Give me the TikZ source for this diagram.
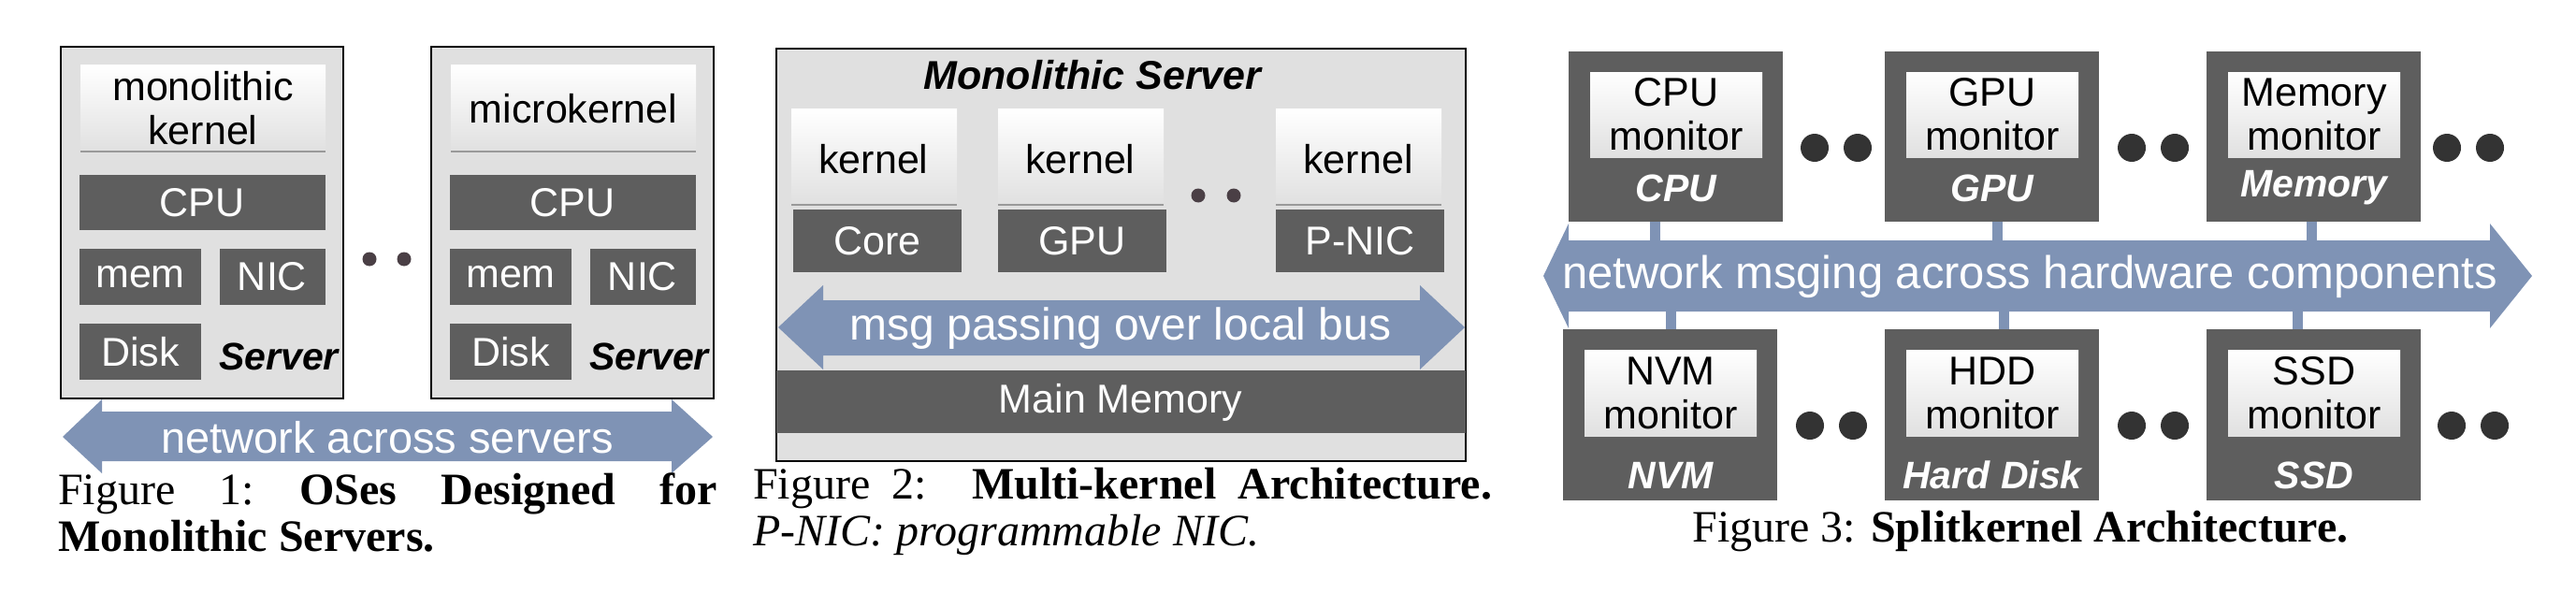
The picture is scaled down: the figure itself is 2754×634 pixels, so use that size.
\documentclass[tikz,border=0pt]{standalone}
\usepackage{fontspec}
\setmainfont{Liberation Serif}
\newfontfamily\hv{Liberation Sans}
\begin{document}
\begin{tikzpicture}[x=1pt,y=-1pt,
  dark/.style={fill=dk,draw=none},
  lite/.style={fill=lt,draw=black,line width=2pt},
  wbox/.style={top color=white,bottom color=white!88!black,draw=none},
  arr/.style={fill=ab},
  lbl/.style={font=\hv\fontsize{43}{47}\selectfont,align=center},
  wlbl/.style={font=\hv\fontsize{43}{47}\selectfont,text=white},
  bi/.style={font=\hv\bfseries\itshape\fontsize{41}{44}\selectfont},
  dot/.style={circle,fill=dd,inner sep=0pt,minimum size=15pt},
  conn/.style={draw=ab,line width=11pt},
  captxt/.style={font=\fontsize{48}{50}\selectfont,anchor=north west,inner sep=0pt}]
\definecolor{dk}{HTML}{5E5E5E}
\definecolor{lt}{HTML}{E0E0E0}
\definecolor{ab}{HTML}{7F93B5}
\definecolor{dd}{HTML}{4A3F45}
\useasboundingbox (0,0) rectangle (2754,634);
% ---------- Panel 1
\foreach \ox/\k/\t in {0/a/{monolithic\\kernel},396/b/microkernel}{
  \draw[lite] (65+\ox,50) rectangle (367+\ox,426);
  \fill[wbox] (86+\ox,70) rectangle (348+\ox,162);
  \draw[white!60!black,line width=2pt] (86+\ox,162) -- (348+\ox,162);
  \node[lbl] (k\k) at (217+\ox,116) {\t};
  \fill[dark] (85+\ox,187) rectangle (348+\ox,246);
  \node[wlbl] (c\k) at (216+\ox,217) {CPU};
  \fill[dark] (85+\ox,266) rectangle (215+\ox,326);
  \node[wlbl] (m\k) at (150+\ox,296) {mem};
  \fill[dark] (235+\ox,266) rectangle (348+\ox,326);
  \node[wlbl] (n\k) at (291+\ox,296) {NIC};
  \fill[dark] (85+\ox,346) rectangle (215+\ox,406);
  \node[wlbl] (d\k) at (150+\ox,376) {Disk};
  \node[bi] (s\k) at (298+\ox,381) {Server};
}
\node[dot] (d1a) at (395,277) {};
\node[dot] (d1b) at (432,277) {};
\fill[arr] (67,467) -- (109,427) -- (109,440) -- (718,440) -- (718,427) -- (762,467) -- (718,506) -- (718,493) -- (109,493) -- (109,506) -- cycle;
\node[wlbl,font=\hv\fontsize{47}{48}\selectfont] (net1) at (414,468) {network across servers};
\node[captxt,text width=705pt,align=justify] (cap1) at (62,505)
  {Figure 1:\quad \textbf{OSes Designed for Monolithic Servers.}};
% ---------- Panel 2
\draw[lite] (830,52) rectangle (1567,493);
\node[bi,font=\hv\bfseries\itshape\fontsize{43}{44}\selectfont] (ms) at (1168,80) {Monolithic Server};
\foreach \x/\a/\t [count=\i] in {846/848/Core,1067/1067/GPU,1364/1364/P-NIC}{
  \fill[wbox] (\x,116) rectangle (\x+177,219);
  \draw[white!60!black,line width=2pt] (\x,219) -- (\x+177,219);
  \node[lbl] (kk\i) at (\x+88,170) {kernel};
  \fill[dark] (\a,224) rectangle (\a+180,291);
  \node[wlbl] (hw\i) at (\a+90,258) {\t};
}
\node[dot] (d2a) at (1281,209) {};
\node[dot] (d2b) at (1319,209) {};
\fill[arr] (832,350) -- (880,305) -- (880,321) -- (1518,321) -- (1518,305) -- (1566,350) -- (1518,395) -- (1518,380) -- (880,380) -- (880,395) -- cycle;
\node[wlbl,font=\hv\fontsize{48}{48}\selectfont] (bus) at (1198,351) {msg passing over local bus};
\fill[dark] (830,396) rectangle (1567,463);
\node[wlbl] (mm) at (1198,430) {Main Memory};
\node[captxt,text width=790pt,align=justify] (cap2) at (805,500)
  {Figure 2:\quad \textbf{Multi-kernel Architecture.} \textit{P-NIC: programmable NIC.}};
% ---------- Panel 3
\fill[arr] (1650,295) -- (1677,239) -- (1677,257) -- (2662,257) -- (2662,239) -- (2707,295) -- (2662,351) -- (2662,333) -- (1677,333) -- (1677,351) -- cycle;
\foreach \x/\cx/\t/\b/\n in {1677/1769/CPU/CPU/t1,2015/2135/GPU/GPU/t2,2359/2471/Memory/Memory/t3}{
  \fill[dark] (\x,55) rectangle (\x+229,237);
  \fill[wbox] (\x+23,77) rectangle (\x+207,168);
  \node[lbl] (\n m) at (\x+115,122) {\t\\monitor};
  \node[bi,text=white] (\n) at (\x+115,201) {\b};
  \coordinate (\n c) at (\cx,257);
  \draw[conn] (\cx,237) -- (\n c);
}
\foreach \x/\cx/\t/\b/\n in {1671/1786/NVM/NVM/u1,2015/2142/HDD/Hard Disk/u2,2359/2456/SSD/SSD/u3}{
  \fill[dark] (\x,352) rectangle (\x+229,535);
  \fill[wbox] (\x+23,374) rectangle (\x+207,466);
  \node[lbl] (\n m) at (\x+115,420) {\t\\monitor};
  \node[bi,text=white] (\n) at (\x+115,508) {\b};
  \coordinate (\n c) at (\cx,333);
  \draw[conn] (\n c) -- (\cx,352);
}
\foreach \x/\y [count=\i] in {1940/158,2279/158,2616/158,1935/455,2279/455,2621/455}{
  \node[dot,fill=black!80,minimum width=24pt,minimum height=30pt] (p\i a) at (\x,\y) {};
  \node[dot,fill=black!80,minimum width=24pt,minimum height=30pt] (p\i b) at (\x+46,\y) {};
}
\node[wlbl,font=\hv\fontsize{49}{50}\selectfont] (net3) at (2170,296) {network msging across hardware components};
\node[font=\fontsize{48}{50}\selectfont] (cap3) at (2160,568) {Figure 3: \textbf{Splitkernel Architecture.}};
\end{tikzpicture}
\end{document}
